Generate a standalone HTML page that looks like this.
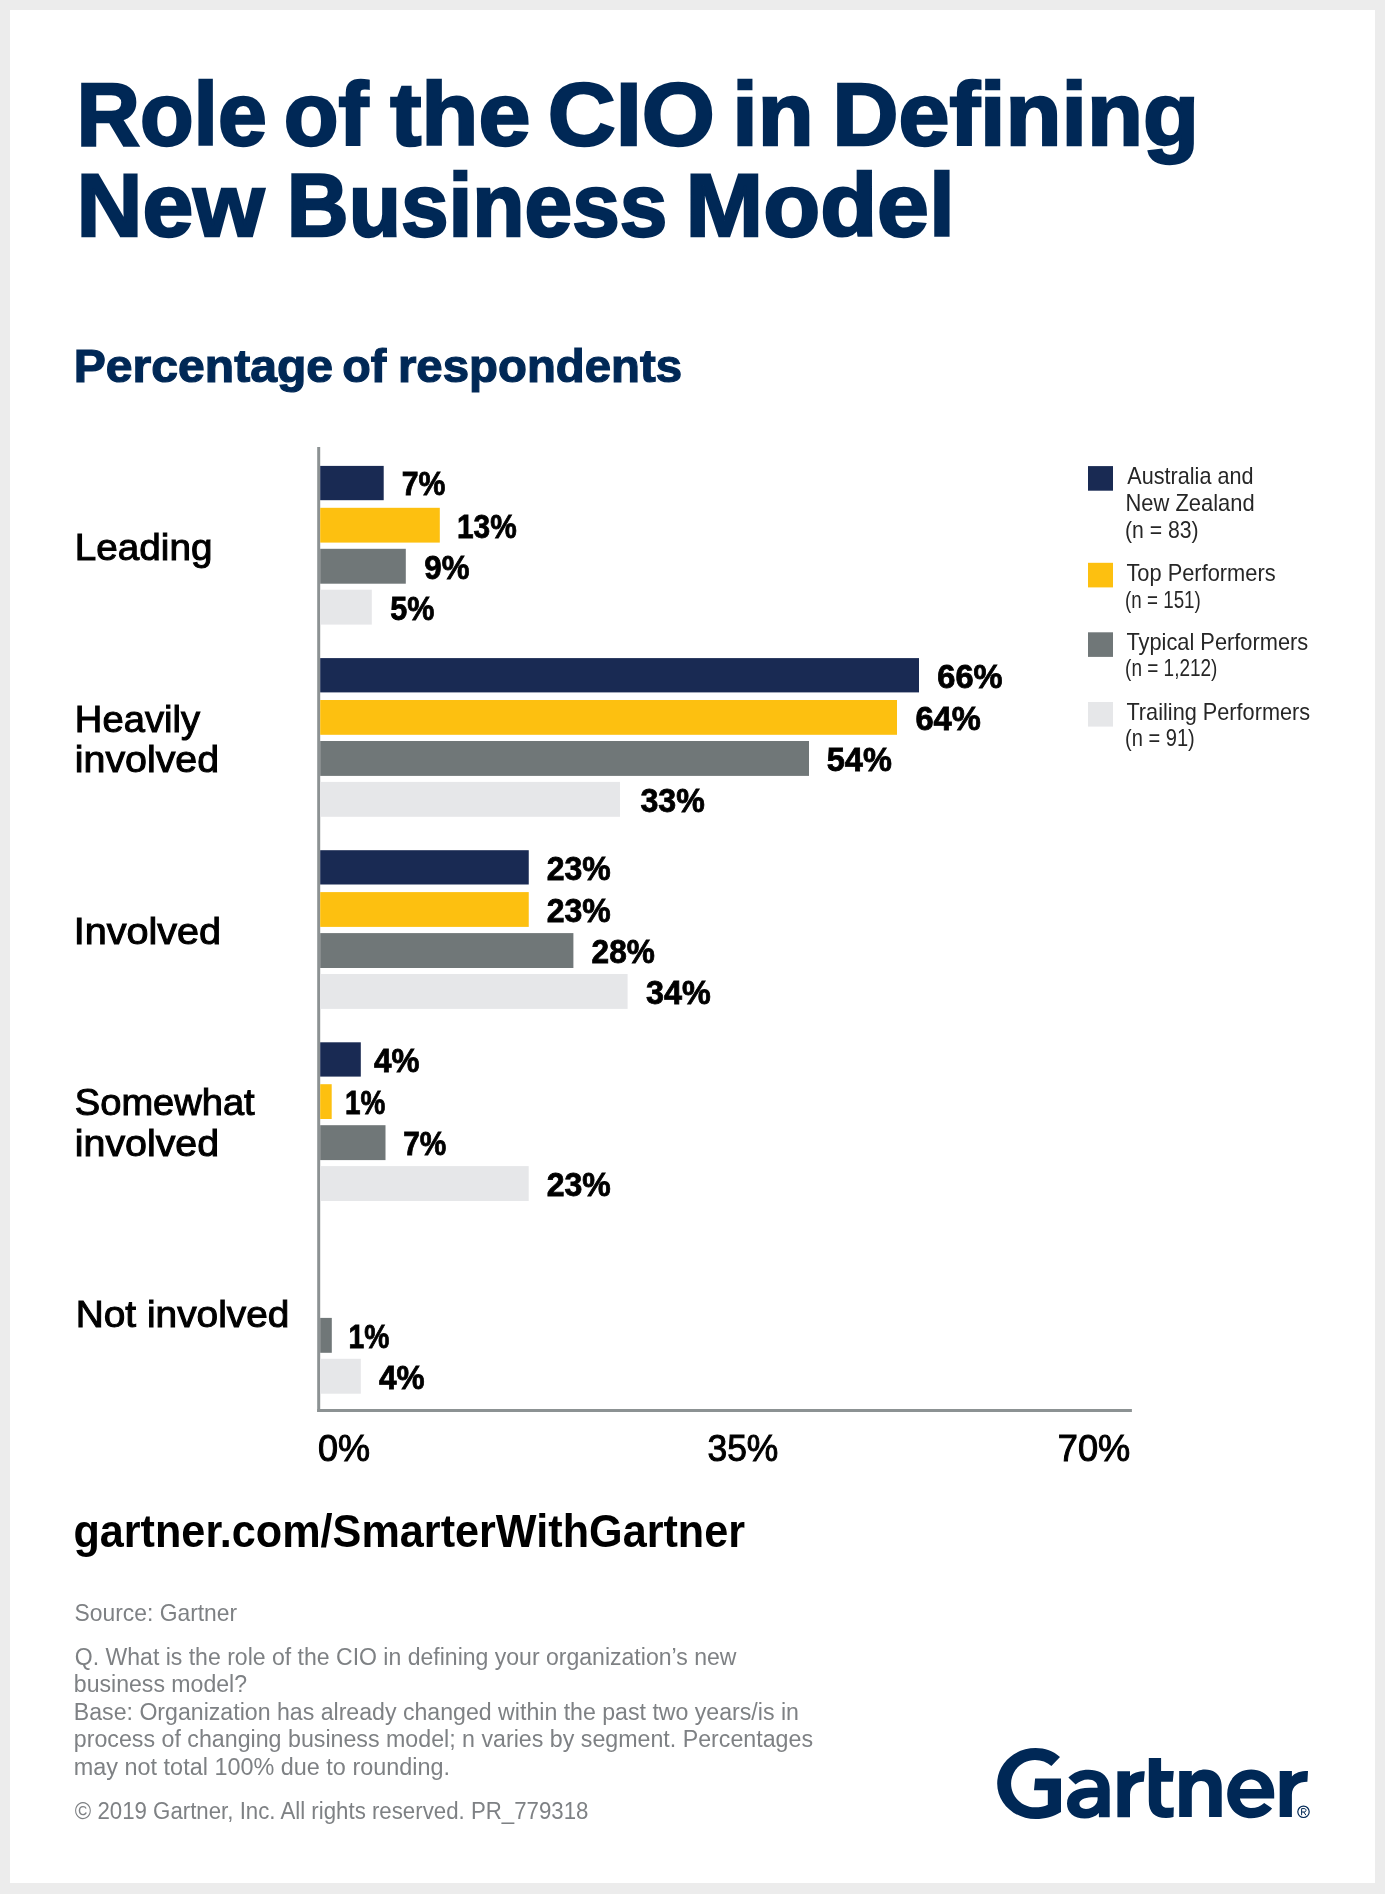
<!DOCTYPE html>
<html><head><meta charset="utf-8"><style>
html,body{margin:0;padding:0;width:1385px;height:1894px;overflow:hidden;background:#fff}
svg{display:block;will-change:transform}
text{font-family:"Liberation Sans",sans-serif;stroke-linejoin:miter;stroke-miterlimit:3}
</style></head><body>
<svg width="1385" height="1894" viewBox="0 0 1385 1894">
<rect x="0" y="0" width="1385" height="1894" fill="#ececec"/>
<rect x="10" y="10" width="1365" height="1873" fill="#fff"/>
<rect x="317.2" y="447" width="3" height="965" fill="#8c9293"/>
<rect x="317.2" y="1409" width="814.7" height="3" fill="#8c9293"/>
<rect x="320.2" y="465.90" width="63.50" height="34.3" fill="#192a53"/>
<rect x="320.2" y="507.80" width="119.60" height="34.8" fill="#fdc010"/>
<rect x="320.2" y="548.80" width="85.60" height="34.9" fill="#707778"/>
<rect x="320.2" y="589.70" width="51.60" height="34.9" fill="#e6e7e9"/>
<rect x="320.2" y="658.10" width="598.80" height="34.3" fill="#192a53"/>
<rect x="320.2" y="700.00" width="576.80" height="34.8" fill="#fdc010"/>
<rect x="320.2" y="741.00" width="488.80" height="34.9" fill="#707778"/>
<rect x="320.2" y="781.90" width="299.80" height="34.9" fill="#e6e7e9"/>
<rect x="320.2" y="850.20" width="208.55" height="34.3" fill="#192a53"/>
<rect x="320.2" y="892.10" width="208.55" height="34.8" fill="#fdc010"/>
<rect x="320.2" y="933.10" width="253.20" height="34.9" fill="#707778"/>
<rect x="320.2" y="974.00" width="307.40" height="34.9" fill="#e6e7e9"/>
<rect x="320.2" y="1042.30" width="40.60" height="34.3" fill="#192a53"/>
<rect x="320.2" y="1084.20" width="11.50" height="34.8" fill="#fdc010"/>
<rect x="320.2" y="1125.20" width="65.30" height="34.9" fill="#707778"/>
<rect x="320.2" y="1166.10" width="208.50" height="34.9" fill="#e6e7e9"/>
<rect x="320.2" y="1317.90" width="11.60" height="34.9" fill="#707778"/>
<rect x="320.2" y="1358.80" width="40.60" height="34.9" fill="#e6e7e9"/>
<rect x="1088" y="466.1" width="25" height="24.6" fill="#192a53"/>
<rect x="1088" y="562.8" width="25" height="24.6" fill="#fdc010"/>
<rect x="1088" y="632.3" width="25" height="24.6" fill="#707778"/>
<rect x="1088" y="702" width="25" height="24.6" fill="#e6e7e9"/>
<text x="76.52" y="144.8" font-size="88.2" font-weight="bold" fill="#002856" stroke="#002856" stroke-width="2.4" textLength="190.37" lengthAdjust="spacingAndGlyphs">Role</text>
<text x="283.74" y="144.8" font-size="88.2" font-weight="bold" fill="#002856" stroke="#002856" stroke-width="2.4" textLength="84.71" lengthAdjust="spacingAndGlyphs">of</text>
<text x="390.21" y="144.8" font-size="88.2" font-weight="bold" fill="#002856" stroke="#002856" stroke-width="2.4" textLength="140.24" lengthAdjust="spacingAndGlyphs">the</text>
<text x="547.87" y="144.8" font-size="88.2" font-weight="bold" fill="#002856" stroke="#002856" stroke-width="2.4" textLength="167.04" lengthAdjust="spacingAndGlyphs">CIO</text>
<text x="732.24" y="144.8" font-size="88.2" font-weight="bold" fill="#002856" stroke="#002856" stroke-width="2.4" textLength="81.46" lengthAdjust="spacingAndGlyphs">in</text>
<text x="832.28" y="144.8" font-size="88.2" font-weight="bold" fill="#002856" stroke="#002856" stroke-width="2.4" textLength="366.79" lengthAdjust="spacingAndGlyphs">Defining</text>
<text x="76.50" y="235.8" font-size="88.2" font-weight="bold" fill="#002856" stroke="#002856" stroke-width="2.4" textLength="187.92" lengthAdjust="spacingAndGlyphs">New</text>
<text x="286.86" y="235.8" font-size="88.2" font-weight="bold" fill="#002856" stroke="#002856" stroke-width="2.4" textLength="380.44" lengthAdjust="spacingAndGlyphs">Business</text>
<text x="685.48" y="235.8" font-size="88.2" font-weight="bold" fill="#002856" stroke="#002856" stroke-width="2.4" textLength="269.43" lengthAdjust="spacingAndGlyphs">Model</text>
<text x="73.80" y="382.2" font-size="46.2" font-weight="bold" fill="#002856" stroke="#002856" stroke-width="1.2" textLength="259.30" lengthAdjust="spacingAndGlyphs">Percentage</text>
<text x="342.28" y="382.2" font-size="46.2" font-weight="bold" fill="#002856" stroke="#002856" stroke-width="1.2" textLength="44.12" lengthAdjust="spacingAndGlyphs">of</text>
<text x="397.94" y="382.2" font-size="46.2" font-weight="bold" fill="#002856" stroke="#002856" stroke-width="1.2" textLength="284.18" lengthAdjust="spacingAndGlyphs">respondents</text>
<text x="74.84" y="559.9" font-size="36.4" font-weight="normal" fill="#000" stroke="#000" stroke-width="1.0" textLength="137.61" lengthAdjust="spacingAndGlyphs">Leading</text>
<text x="74.88" y="731.8" font-size="36.4" font-weight="normal" fill="#000" stroke="#000" stroke-width="1.0" textLength="125.14" lengthAdjust="spacingAndGlyphs">Heavily</text>
<text x="74.80" y="771.7" font-size="36.4" font-weight="normal" fill="#000" stroke="#000" stroke-width="1.0" textLength="144.28" lengthAdjust="spacingAndGlyphs">involved</text>
<text x="73.69" y="943.7" font-size="36.4" font-weight="normal" fill="#000" stroke="#000" stroke-width="1.0" textLength="147.43" lengthAdjust="spacingAndGlyphs">Involved</text>
<text x="74.83" y="1115.3" font-size="36.4" font-weight="normal" fill="#000" stroke="#000" stroke-width="1.0" textLength="179.88" lengthAdjust="spacingAndGlyphs">Somewhat</text>
<text x="74.80" y="1156.0" font-size="36.4" font-weight="normal" fill="#000" stroke="#000" stroke-width="1.0" textLength="144.28" lengthAdjust="spacingAndGlyphs">involved</text>
<text x="75.73" y="1327.2" font-size="36.4" font-weight="normal" fill="#000" stroke="#000" stroke-width="1.0" textLength="213.65" lengthAdjust="spacingAndGlyphs">Not involved</text>
<text x="401.72" y="495.4" font-size="32.8" font-weight="bold" fill="#000" stroke="#000" stroke-width="0.8" textLength="43.72" lengthAdjust="spacingAndGlyphs">7%</text>
<text x="457.04" y="537.8" font-size="32.8" font-weight="bold" fill="#000" stroke="#000" stroke-width="0.8" textLength="59.71" lengthAdjust="spacingAndGlyphs">13%</text>
<text x="424.32" y="578.9" font-size="32.8" font-weight="bold" fill="#000" stroke="#000" stroke-width="0.8" textLength="45.14" lengthAdjust="spacingAndGlyphs">9%</text>
<text x="390.23" y="619.8" font-size="32.8" font-weight="bold" fill="#000" stroke="#000" stroke-width="0.8" textLength="44.11" lengthAdjust="spacingAndGlyphs">5%</text>
<text x="937.30" y="687.6" font-size="32.8" font-weight="bold" fill="#000" stroke="#000" stroke-width="0.8" textLength="65.35" lengthAdjust="spacingAndGlyphs">66%</text>
<text x="915.40" y="730.0" font-size="32.8" font-weight="bold" fill="#000" stroke="#000" stroke-width="0.8" textLength="65.45" lengthAdjust="spacingAndGlyphs">64%</text>
<text x="826.80" y="771.1" font-size="32.8" font-weight="bold" fill="#000" stroke="#000" stroke-width="0.8" textLength="65.05" lengthAdjust="spacingAndGlyphs">54%</text>
<text x="640.41" y="812.0" font-size="32.8" font-weight="bold" fill="#000" stroke="#000" stroke-width="0.8" textLength="64.34" lengthAdjust="spacingAndGlyphs">33%</text>
<text x="546.71" y="879.7" font-size="32.8" font-weight="bold" fill="#000" stroke="#000" stroke-width="0.8" textLength="64.04" lengthAdjust="spacingAndGlyphs">23%</text>
<text x="546.71" y="922.1" font-size="32.8" font-weight="bold" fill="#000" stroke="#000" stroke-width="0.8" textLength="64.04" lengthAdjust="spacingAndGlyphs">23%</text>
<text x="591.62" y="963.2" font-size="32.8" font-weight="bold" fill="#000" stroke="#000" stroke-width="0.8" textLength="63.23" lengthAdjust="spacingAndGlyphs">28%</text>
<text x="646.01" y="1004.1" font-size="32.8" font-weight="bold" fill="#000" stroke="#000" stroke-width="0.8" textLength="64.75" lengthAdjust="spacingAndGlyphs">34%</text>
<text x="374.02" y="1071.8" font-size="32.8" font-weight="bold" fill="#000" stroke="#000" stroke-width="0.8" textLength="45.45" lengthAdjust="spacingAndGlyphs">4%</text>
<text x="344.92" y="1114.2" font-size="32.8" font-weight="bold" fill="#000" stroke="#000" stroke-width="0.8" textLength="40.35" lengthAdjust="spacingAndGlyphs">1%</text>
<text x="403.24" y="1155.3000000000002" font-size="32.8" font-weight="bold" fill="#000" stroke="#000" stroke-width="0.8" textLength="43.09" lengthAdjust="spacingAndGlyphs">7%</text>
<text x="546.71" y="1196.2" font-size="32.8" font-weight="bold" fill="#000" stroke="#000" stroke-width="0.8" textLength="64.04" lengthAdjust="spacingAndGlyphs">23%</text>
<text x="348.51" y="1348.0000000000002" font-size="32.8" font-weight="bold" fill="#000" stroke="#000" stroke-width="0.8" textLength="40.87" lengthAdjust="spacingAndGlyphs">1%</text>
<text x="378.92" y="1388.9" font-size="32.8" font-weight="bold" fill="#000" stroke="#000" stroke-width="0.8" textLength="45.65" lengthAdjust="spacingAndGlyphs">4%</text>
<text x="318.01" y="1461.3" font-size="36.4" font-weight="normal" fill="#000" stroke="#000" stroke-width="1.0" textLength="52.08" lengthAdjust="spacingAndGlyphs">0%</text>
<text x="707.44" y="1461.3" font-size="36.4" font-weight="normal" fill="#000" stroke="#000" stroke-width="1.0" textLength="70.87" lengthAdjust="spacingAndGlyphs">35%</text>
<text x="1057.81" y="1461.3" font-size="36.4" font-weight="normal" fill="#000" stroke="#000" stroke-width="1.0" textLength="72.43" lengthAdjust="spacingAndGlyphs">70%</text>
<text x="1127.37" y="484.2" font-size="23.2" font-weight="normal" fill="#262626" textLength="126.12" lengthAdjust="spacingAndGlyphs">Australia and</text>
<text x="1125.48" y="510.8" font-size="23.2" font-weight="normal" fill="#262626" textLength="129.18" lengthAdjust="spacingAndGlyphs">New Zealand</text>
<text x="1124.93" y="537.5" font-size="23.2" font-weight="normal" fill="#262626" textLength="73.75" lengthAdjust="spacingAndGlyphs">(n = 83)</text>
<text x="1126.43" y="580.8" font-size="23.2" font-weight="normal" fill="#262626" textLength="149.17" lengthAdjust="spacingAndGlyphs">Top Performers</text>
<text x="1125.09" y="607.6" font-size="23.2" font-weight="normal" fill="#262626" textLength="75.69" lengthAdjust="spacingAndGlyphs">(n = 151)</text>
<text x="1126.43" y="649.6" font-size="23.2" font-weight="normal" fill="#262626" textLength="181.81" lengthAdjust="spacingAndGlyphs">Typical Performers</text>
<text x="1125.07" y="676.4" font-size="23.2" font-weight="normal" fill="#262626" textLength="92.39" lengthAdjust="spacingAndGlyphs">(n = 1,212)</text>
<text x="1126.43" y="719.6" font-size="23.2" font-weight="normal" fill="#262626" textLength="183.70" lengthAdjust="spacingAndGlyphs">Trailing Performers</text>
<text x="1125.00" y="746" font-size="23.2" font-weight="normal" fill="#262626" textLength="69.82" lengthAdjust="spacingAndGlyphs">(n = 91)</text>
<text x="73.38" y="1547.2" font-size="45.5" font-weight="bold" fill="#000" textLength="671.68" lengthAdjust="spacingAndGlyphs">gartner.com/SmarterWithGartner</text>
<text x="74.62" y="1621" font-size="23.8" font-weight="normal" fill="#7e8184" textLength="162.50" lengthAdjust="spacingAndGlyphs">Source: Gartner</text>
<text x="74.81" y="1664.5" font-size="23.5" font-weight="normal" fill="#7e8184" textLength="661.59" lengthAdjust="spacingAndGlyphs">Q. What is the role of the CIO in defining your organization’s new</text>
<text x="73.83" y="1692" font-size="23.5" font-weight="normal" fill="#7e8184" textLength="173.22" lengthAdjust="spacingAndGlyphs">business model?</text>
<text x="73.82" y="1720" font-size="23.5" font-weight="normal" fill="#7e8184" textLength="725.12" lengthAdjust="spacingAndGlyphs">Base: Organization has already changed within the past two years/is in</text>
<text x="73.82" y="1747" font-size="23.5" font-weight="normal" fill="#7e8184" textLength="739.20" lengthAdjust="spacingAndGlyphs">process of changing business model; n varies by segment. Percentages</text>
<text x="73.81" y="1774.5" font-size="23.5" font-weight="normal" fill="#7e8184" textLength="376.25" lengthAdjust="spacingAndGlyphs">may not total 100% due to rounding.</text>
<text x="74.83" y="1818.5" font-size="23.5" font-weight="normal" fill="#7e8184" textLength="513.58" lengthAdjust="spacingAndGlyphs">© 2019 Gartner, Inc. All rights reserved. PR_779318</text>
<g fill="#002856" fill-rule="evenodd">
<path d="M 1060 1757 C 1053.5 1751 1045 1748 1035.6 1748 C 1014.4 1748 997.2 1764 997.2 1783.5 C 997.2 1803.1 1014.4 1819.1 1035.6 1819.1 C 1045 1819.1 1054 1816.5 1061 1812 L 1061 1778.4 L 1035.1 1778.4 L 1034 1790.3 L 1047.8 1790.3 L 1047.8 1804.7 C 1044 1806.5 1040 1807.3 1035 1807.3 C 1021.8 1807.3 1011.1 1796.7 1011.1 1783.6 C 1011.1 1770.5 1021.8 1759.9 1035 1759.9 C 1041.5 1759.9 1047 1762 1051.4 1765.9 Z"/>
<path d="M 1068.4 1777.5 C 1073.5 1772.3 1080.5 1769.7 1088.6 1769.7 C 1101.5 1769.7 1109.7 1776.5 1109.7 1789.5 L 1109.7 1817.2 L 1098.9 1817.2 L 1098.9 1813 C 1095.5 1816.6 1090.5 1818.5 1084.7 1818.5 C 1074 1818.5 1067 1812.5 1067 1803.5 C 1067 1793.5 1075.5 1787.8 1090 1787.8 L 1097.6 1787.8 C 1097.6 1782.5 1094 1779.5 1088 1779.5 C 1083.5 1779.5 1079 1781.5 1075.6 1784.6 Z M 1097.6 1797.2 L 1091.2 1797.2 C 1084 1797.8 1079.4 1800 1079.4 1803.5 C 1079.4 1807 1082 1808.9 1086 1808.9 C 1093 1808.9 1097.6 1804 1097.6 1799 Z"/>
<path d="M 1117.4 1771.2 L 1130 1771.2 L 1130 1776.2 C 1133 1772.8 1138 1771.2 1144.8 1771.2 L 1143.8 1781.8 C 1135.5 1781.8 1130 1786 1130 1795 L 1130 1817.2 L 1117.4 1817.2 Z"/>
<path d="M 1148.8 1758.1 L 1161.1 1758.1 L 1161.1 1771.1 L 1173.8 1771.1 L 1172.8 1781.8 L 1161.1 1781.8 L 1161.1 1801 C 1161.1 1805.5 1163 1807.8 1167 1807.8 C 1169.5 1807.8 1172 1807.5 1173.8 1807.2 L 1173.5 1817 C 1171 1817.6 1168.5 1818 1166 1818 C 1154.5 1818 1148.8 1812 1148.8 1801 Z"/>
<path d="M 1179.2 1771.1 L 1191.8 1771.1 L 1191.8 1776 C 1195 1771.5 1199.5 1769.5 1205 1769.5 C 1215.5 1769.5 1221.7 1776 1221.7 1787 L 1221.7 1816.9 L 1209.1 1816.9 L 1209.1 1790 C 1209.1 1784 1206 1781.1 1201.1 1781.1 C 1195 1781.1 1191.8 1785.5 1191.8 1792 L 1191.8 1816.9 L 1179.2 1816.9 Z"/>
<path d="M 1272.1 1808.4 C 1267.5 1814.6 1260 1818.3 1251.2 1818.3 C 1237.5 1818.3 1227.2 1808 1227.2 1794 C 1227.2 1780 1237.5 1769.6 1251.2 1769.6 C 1264.5 1769.6 1274.2 1779.5 1274.2 1793.5 L 1274.2 1798.5 L 1239.9 1798.5 C 1241 1804 1245.5 1808 1251 1808 C 1256.5 1808 1261 1806 1264.2 1802.9 Z M 1239.9 1788.9 L 1261.8 1788.9 C 1260.5 1783 1256.5 1779.5 1251.2 1779.5 C 1245.5 1779.5 1241.2 1783 1239.9 1788.9 Z"/>
<path d="M 1279.7 1771 L 1291.9 1771 L 1291.9 1776.5 C 1295 1772.8 1300.5 1771 1308 1771 L 1307.4 1781.8 C 1298.5 1781.8 1291.9 1786 1291.9 1795 L 1291.9 1816.9 L 1279.7 1816.9 Z"/>
</g>
<circle cx="1303.5" cy="1811.8" r="5.7" fill="none" stroke="#002856" stroke-width="1.2"/>
<path d="M 1301.6 1815.2 L 1301.6 1808.6 L 1304 1808.6 C 1305.4 1808.6 1306 1809.3 1306 1810.3 C 1306 1811.3 1305.3 1812 1304 1812 L 1301.6 1812 M 1303.8 1812 L 1305.9 1815.2" fill="none" stroke="#002856" stroke-width="1"/>

</svg>
</body></html>
